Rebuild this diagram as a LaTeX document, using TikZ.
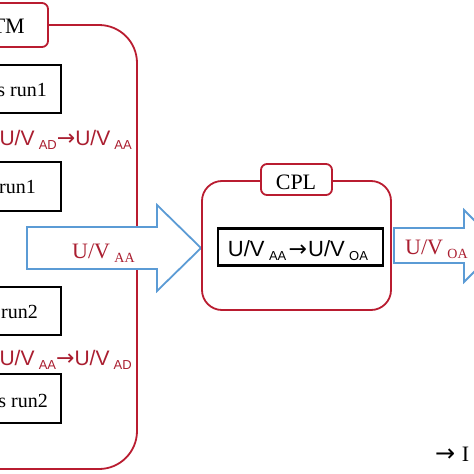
\documentclass[tikz,border=0pt]{standalone}
\usepackage{fontspec}
\setmainfont{Liberation Serif}
\setsansfont{Liberation Sans}
\newfontfamily\symfont{DejaVu Sans}
\definecolor{boxred}{RGB}{185,28,48}
\definecolor{txtred}{RGB}{170,30,48}
\definecolor{arrblue}{RGB}{91,155,213}
\newcommand\subtxt[2]{\hspace{0.2em}\raisebox{-0.2em}{\fontsize{#1}{#1}\selectfont #2}}
\newcommand\arr[1]{{\symfont\fontsize{#1}{#1}\selectfont →}}
\tikzset{
  redbox/.style={draw=boxred, line width=1.8pt, fill=white},
  blackbox/.style={draw=black, line width=2.2pt, fill=white, inner sep=0pt},
  bluearrow/.style={draw=arrblue, line width=1.8pt, fill=white, line join=miter},
  serif/.style={inner sep=0pt, font=\fontsize{20}{20}\selectfont},
  bigserif/.style={inner sep=0pt, font=\fontsize{22}{22}\selectfont},
  redsans/.style={inner sep=0pt, text=txtred, font=\sffamily\fontsize{21}{21}\selectfont},
  redserif/.style={inner sep=0pt, text=txtred, font=\fontsize{22}{22}\selectfont},
}
\begin{document}
\begin{tikzpicture}[x=1pt,y=-1pt]
\useasboundingbox (0,0) rectangle (474,474);
\clip (0,0) rectangle (474,474);
% left container
\draw[redbox, rounded corners=38] (-80,25) rectangle (137,469);
\draw[redbox, rounded corners=6] (-60,3) rectangle (48,47);
\node[bigserif, anchor=base east] (tm) at (25,33) {TM};
% black boxes
\node[blackbox, minimum width=102pt, minimum height=48pt] (b1) at (10,89) {};
\node[serif, anchor=base east] (t1) at (47,96) {s run1};
\node[redsans, anchor=base east] (r1) at (132,145) {U/V\subtxt{13}{AD}\arr{22}U/V\subtxt{13}{AA}};
\node[blackbox, minimum width=102pt, minimum height=49pt] (b2) at (10,186.5) {};
\node[serif, anchor=base east] (t2) at (36,193) {run1};
\node[blackbox, minimum width=102pt, minimum height=48pt] (b3) at (10,311) {};
\node[serif, anchor=base east] (t3) at (38,318) {run2};
\node[redsans, anchor=base east] (r2) at (132,365) {U/V\subtxt{13}{AA}\arr{22}U/V\subtxt{13}{AD}};
\node[blackbox, minimum width=102pt, minimum height=49pt] (b4) at (10,398.5) {};
\node[serif, anchor=base east] (t4) at (48,407) {s run2};
% left arrow
\draw[bluearrow] (27,227) -- (157,227) -- (157,205) -- (201,248) -- (157,291) -- (157,269) -- (27,269) -- cycle;
\node[redserif, anchor=base west] (a1) at (72,258) {U/V\subtxt{14}{AA}};
% CPL
\draw[redbox, rounded corners=20] (202,181) rectangle (391,310);
\draw[redbox, rounded corners=6] (261,164) rectangle (332,195);
\node[bigserif, anchor=base] (cpl) at (296,189) {CPL};
\node[blackbox, minimum width=165pt, minimum height=37pt] (cb) at (300.5,247) {};
\node[inner sep=0pt, font=\sffamily\fontsize{22}{22}\selectfont, anchor=base] (ct) at (298,256) {U/V\subtxt{13}{AA}\hspace{0.1em}\arr{22}\hspace{0.05em}U/V\subtxt{13}{OA}};
% right arrow
\draw[bluearrow] (394,228) -- (464,228) -- (464,210) -- (500,246) -- (464,282) -- (464,263) -- (394,263) -- cycle;
\node[redserif, anchor=base west] (a2) at (405,254) {U/V\subtxt{14}{OA}};
% legend fragment
\node[inner sep=0pt, anchor=base west, font=\fontsize{22}{22}\selectfont] (lg) at (435,461) {\arr{24}\hspace{0.3em}I};
\end{tikzpicture}
\end{document}
